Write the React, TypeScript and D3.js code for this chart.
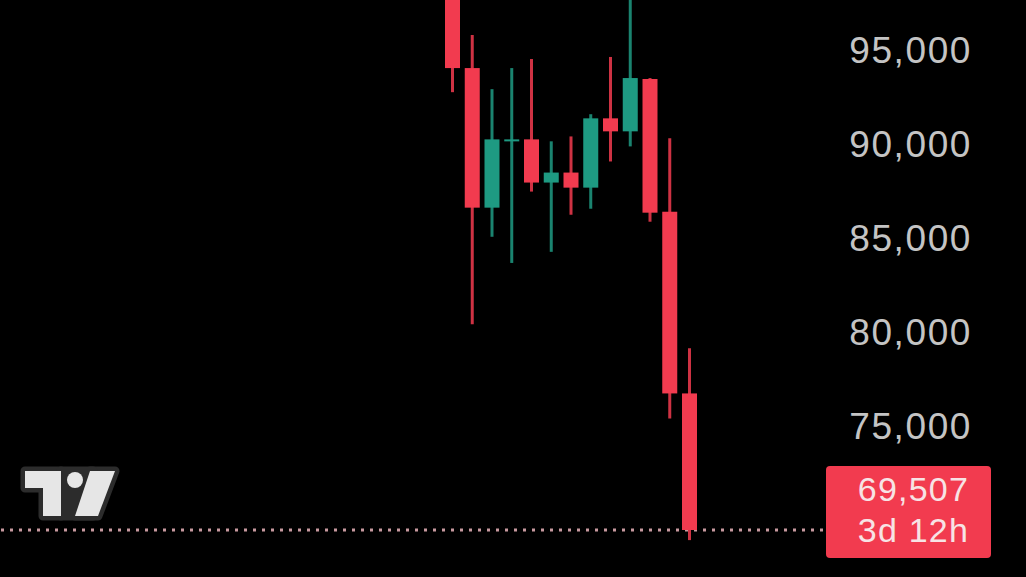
import React from "react";
import * as d3 from "d3";

const W = 1026;
const H = 577;

// Candle data
const opens = [97800, 94040, 86627, 90200, 90253, 87960, 88490, 87690, 91370, 90680, 93460, 86410, 76760];
const highs = [99000, 95800, 92920, 94040, 94520, 90150, 90410, 91590, 94630, 97900, 93510, 90310, 79160];
const lows = [92760, 80440, 85080, 83690, 87480, 84280, 86250, 86570, 89080, 89880, 85880, 75430, 68970];
const closes = [94040, 86627, 90253, 90253, 87960, 88490, 87690, 91370, 90680, 93510, 86360, 76760, 69507];

const yTicks = [95000, 90000, 85000, 80000, 75000];
const lastPrice = 69507;
const countdown = "3d 12h";

const UP = "#1E9A82";
const DOWN = "#F23B4F";

export default function App() {
  const y = d3.scaleLinear().domain([lastPrice, 95000]).range([530, 50]);
  const x = d3.scaleLinear().domain([0, 12]).range([452.5, 689.5]);
  const fmt = d3.format(",");
  const bodyW = 15;
  const font = "'Liberation Sans', Arial, sans-serif";

  const tPath = "M25 471 H61 V516 H43 V488 H25 Z";
  const sPath = "M90 471 H115 L98 516 H75 Z";

  return (
    <svg width={W} height={H} style={{ position: "absolute", left: 0, top: 0, background: "#000" }}>
      <rect x={0} y={0} width={W} height={H} fill="#000" />
      {/* dotted last price line */}
      <line
        x1={1}
        x2={826}
        y1={y(lastPrice)}
        y2={y(lastPrice)}
        stroke="#c99aa0"
        strokeWidth={3}
        strokeDasharray="3 6"
      />
      {/* candles */}
      {opens.map((o, i) => {
        const c = closes[i];
        const up = c >= o;
        const col = up ? UP : DOWN;
        const top = y(Math.max(o, c));
        const bot = y(Math.min(o, c));
        return (
          <g key={i}>
            <line
              x1={x(i)}
              x2={x(i)}
              y1={y(highs[i])}
              y2={y(lows[i])}
              stroke={col}
              strokeOpacity={0.85}
              strokeWidth={3}
            />
            <rect x={x(i) - bodyW / 2} y={top} width={bodyW} height={Math.max(bot - top, 2)} fill={col} />
          </g>
        );
      })}
      {/* y axis labels */}
      {yTicks.map((t) => (
        <text
          key={t}
          x={972}
          y={y(t)}
          textAnchor="end"
          dominantBaseline="central"
          fill="#c4c4c4"
          fontFamily={font}
          fontSize={37}
          letterSpacing={1.6}
        >
          {fmt(t)}
        </text>
      ))}
      {/* price label */}
      <rect x={826} y={466} width={165} height={92} rx={4} fill={DOWN} />
      <text x={969} y={489} textAnchor="end" dominantBaseline="central" fill="#f7e3e5" fontFamily={font} fontSize={34} letterSpacing={1.2}>
        {fmt(lastPrice)}
      </text>
      <text x={969} y={530} textAnchor="end" dominantBaseline="central" fill="#f7e3e5" fontFamily={font} fontSize={34} letterSpacing={1.2}>
        {countdown}
      </text>
      {/* TradingView logo */}
      <g>
        <g stroke="#2c2c2c" strokeWidth={9} strokeLinejoin="round" fill="#2c2c2c">
          <path d={tPath} />
          <circle cx={75} cy={480} r={8} />
          <path d={sPath} />
          <rect x={61} y={471} width={32} height={45} />
        </g>
        <path d={tPath} fill="#e6e6e6" />
        <circle cx={75} cy={480} r={8} fill="#e6e6e6" />
        <path d={sPath} fill="#e6e6e6" />
      </g>
    </svg>
  );
}
